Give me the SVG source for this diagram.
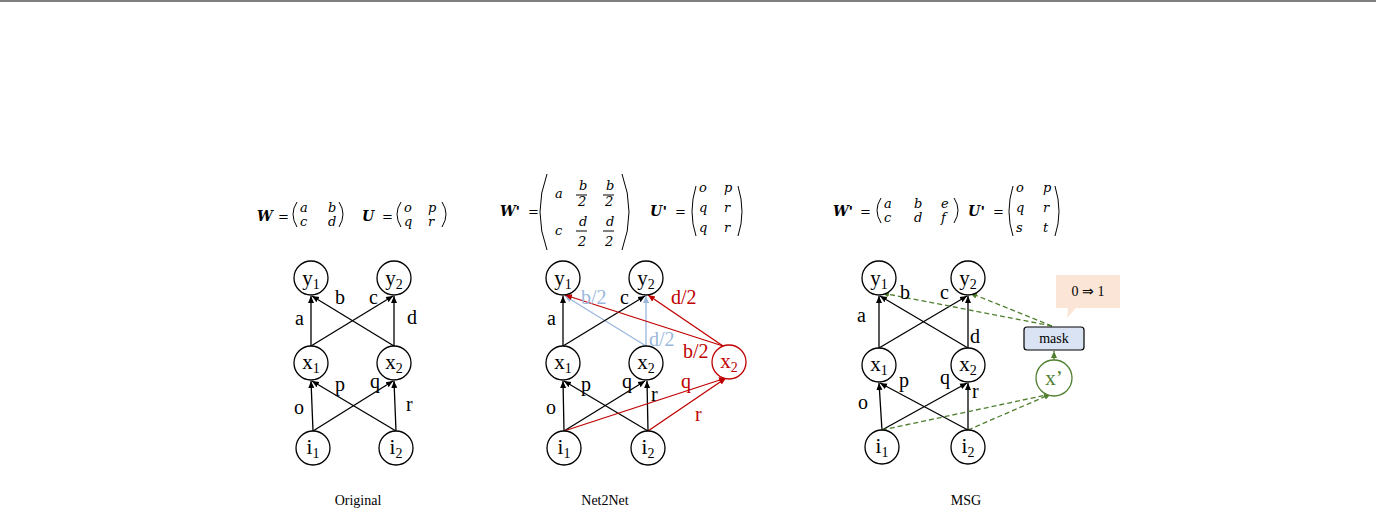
<svg xmlns="http://www.w3.org/2000/svg" width="1376" height="512" viewBox="0 0 1376 512">
<style>
text{font-family:"Liberation Serif",serif;fill:#000}
.n{fill:#fff;stroke:#000;stroke-width:1.3}
.nl{font-size:21px;text-anchor:middle}
.l{font-size:20px}
.m{font-family:"DejaVu Serif","Liberation Serif",serif;font-style:italic;font-size:13px}
.mb{font-family:"DejaVu Serif",serif;font-weight:bold;font-style:italic;font-size:14px}
.pr{font-family:"Liberation Sans",sans-serif;font-style:normal;font-weight:bold;font-size:15px}
.e{stroke:#000;stroke-width:1.3;fill:none;marker-end:url(#ak)}
.r{stroke:#c00000;stroke-width:1.3;fill:none;marker-end:url(#ar)}
.b{stroke:#9ab7dd;stroke-width:1.3;fill:none;marker-end:url(#ab)}
.g{stroke:#4f7f2f;stroke-width:1.3;fill:none;stroke-dasharray:5 3;marker-end:url(#ag)}
.p{fill:none;stroke:#000;stroke-width:1}
.t{font-size:14px;text-anchor:middle}
</style>
<defs>
<marker id="ak" markerWidth="8" markerHeight="8" refX="7" refY="4" orient="auto" markerUnits="userSpaceOnUse"><path d="M0,1 L7,4 L0,7z" fill="#000"/></marker>
<marker id="ar" markerWidth="8" markerHeight="8" refX="7" refY="4" orient="auto" markerUnits="userSpaceOnUse"><path d="M0,1 L7,4 L0,7z" fill="#c00000"/></marker>
<marker id="ab" markerWidth="8" markerHeight="8" refX="7" refY="4" orient="auto" markerUnits="userSpaceOnUse"><path d="M0,1 L7,4 L0,7z" fill="#9ab7dd"/></marker>
<marker id="ag" markerWidth="8" markerHeight="8" refX="7" refY="4" orient="auto" markerUnits="userSpaceOnUse"><path d="M0,1 L7,4 L0,7z" fill="#4f7f2f"/></marker>
</defs>
<line x1="0" y1="1" x2="1376" y2="1" stroke="#000" stroke-width="1.2"/>

<g id="connectors">
<line class="e" x1="311" y1="346" x2="311" y2="296"/>
<line class="e" x1="311" y1="346" x2="393" y2="296"/>
<line class="e" x1="394" y1="346" x2="312" y2="296"/>
<line class="e" x1="394" y1="346" x2="394" y2="296"/>
<line class="e" x1="313" y1="431" x2="311" y2="381"/>
<line class="e" x1="313" y1="431" x2="393" y2="381"/>
<line class="e" x1="396" y1="431" x2="312" y2="381"/>
<line class="e" x1="396" y1="431" x2="394" y2="381"/>
<line class="b" x1="646" y1="346" x2="565" y2="296"/>
<line class="b" x1="646" y1="346" x2="646" y2="296"/>
<line class="e" x1="563" y1="346" x2="563" y2="296"/>
<line class="e" x1="563" y1="346" x2="645" y2="296"/>
<line class="r" x1="723" y1="346" x2="565" y2="295"/>
<line class="r" x1="723" y1="346" x2="648" y2="295"/>
<line class="e" x1="564" y1="431" x2="563" y2="381"/>
<line class="e" x1="564" y1="431" x2="645" y2="381"/>
<line class="e" x1="648" y1="431" x2="564" y2="381"/>
<line class="e" x1="648" y1="431" x2="647" y2="381"/>
<line class="r" x1="564" y1="431" x2="726" y2="378"/>
<line class="r" x1="648" y1="431" x2="726" y2="378"/>
<line class="e" x1="879" y1="348" x2="879" y2="296"/>
<line class="e" x1="879" y1="348" x2="967" y2="296"/>
<line class="e" x1="968" y1="348" x2="880" y2="296"/>
<line class="e" x1="968" y1="348" x2="968" y2="296"/>
<line class="e" x1="882" y1="430" x2="879" y2="383"/>
<line class="e" x1="882" y1="430" x2="967" y2="383"/>
<line class="e" x1="968" y1="430" x2="880" y2="383"/>
<line class="e" x1="968" y1="430" x2="968" y2="383"/>
<line class="g" x1="1052" y1="326" x2="882" y2="293"/>
<line class="g" x1="1052" y1="326" x2="970" y2="293"/>
<line class="g" x1="882" y1="430" x2="1051" y2="394"/>
<line class="g" x1="968" y1="430" x2="1051" y2="394"/>
<line class="g" x1="1054" y1="360" x2="1054" y2="351" stroke-dasharray="none"/>
</g>

<g id="labels">
<text class="l" x="295" y="325">a</text><text class="l" x="335" y="304">b</text>
<text class="l" x="369" y="304">c</text><text class="l" x="407" y="324">d</text>
<text class="l" x="335" y="391">p</text><text class="l" x="370" y="388">q</text>
<text class="l" x="294" y="414">o</text><text class="l" x="406" y="411">r</text>
<text class="l" x="547" y="325">a</text><text class="l" x="620" y="304">c</text>
<text class="l" x="581" y="304" style="fill:#9ab7dd">b/2</text>
<text class="l" x="649" y="346" style="fill:#9ab7dd">d/2</text>
<text class="l" x="671" y="304" style="fill:#c00000">d/2</text>
<text class="l" x="683" y="358" style="fill:#c00000">b/2</text>
<text class="l" x="681" y="388" style="fill:#c00000">q</text>
<text class="l" x="695" y="421" style="fill:#c00000">r</text>
<text class="l" x="581" y="391">p</text><text class="l" x="622" y="388">q</text>
<text class="l" x="546" y="414">o</text><text class="l" x="651" y="401">r</text>
<text class="l" x="857" y="322">a</text><text class="l" x="900" y="299">b</text>
<text class="l" x="940" y="299">c</text><text class="l" x="970" y="343">d</text>
<text class="l" x="899" y="387">p</text><text class="l" x="940" y="384">q</text>
<text class="l" x="858" y="409">o</text><text class="l" x="972" y="398">r</text>
</g>

<g id="y1o"><circle class="n" cx="311" cy="278" r="17"/><text class="nl" x="311" y="285">y<tspan font-size="14" dy="4">1</tspan></text></g>
<g id="y2o"><circle class="n" cx="394" cy="278" r="17"/><text class="nl" x="394" y="285">y<tspan font-size="14" dy="4">2</tspan></text></g>
<g id="x1o"><circle class="n" cx="311" cy="363" r="17"/><text class="nl" x="311" y="369">x<tspan font-size="14" dy="4">1</tspan></text></g>
<g id="x2o"><circle class="n" cx="394" cy="363" r="17"/><text class="nl" x="394" y="369">x<tspan font-size="14" dy="4">2</tspan></text></g>
<g id="i1o"><circle class="n" cx="313" cy="448" r="17"/><text class="nl" x="313" y="454">i<tspan font-size="14" dy="4">1</tspan></text></g>
<g id="i2o"><circle class="n" cx="396" cy="448" r="17"/><text class="nl" x="396" y="454">i<tspan font-size="14" dy="4">2</tspan></text></g>
<g id="y1n"><circle class="n" cx="563" cy="278" r="17"/><text class="nl" x="563" y="285">y<tspan font-size="14" dy="4">1</tspan></text></g>
<g id="y2n"><circle class="n" cx="646" cy="278" r="17"/><text class="nl" x="646" y="285">y<tspan font-size="14" dy="4">2</tspan></text></g>
<g id="x1n"><circle class="n" cx="563" cy="363" r="17"/><text class="nl" x="563" y="369">x<tspan font-size="14" dy="4">1</tspan></text></g>
<g id="x2n"><circle class="n" cx="646" cy="363" r="17"/><text class="nl" x="646" y="369">x<tspan font-size="14" dy="4">2</tspan></text></g>
<g id="x2new"><circle class="n" cx="729" cy="362" r="17" style="stroke:#c00000"/><text class="nl" x="729" y="368" style="fill:#c00000">x<tspan font-size="14" dy="4">2</tspan></text></g>
<g id="i1n"><circle class="n" cx="564" cy="448" r="17"/><text class="nl" x="564" y="454">i<tspan font-size="14" dy="4">1</tspan></text></g>
<g id="i2n"><circle class="n" cx="648" cy="448" r="17"/><text class="nl" x="648" y="454">i<tspan font-size="14" dy="4">2</tspan></text></g>
<g id="y1m"><circle class="n" cx="879" cy="278" r="17"/><text class="nl" x="879" y="285">y<tspan font-size="14" dy="4">1</tspan></text></g>
<g id="y2m"><circle class="n" cx="968" cy="278" r="17"/><text class="nl" x="968" y="285">y<tspan font-size="14" dy="4">2</tspan></text></g>
<g id="x1m"><circle class="n" cx="879" cy="365" r="17"/><text class="nl" x="879" y="371">x<tspan font-size="14" dy="4">1</tspan></text></g>
<g id="x2m"><circle class="n" cx="968" cy="365" r="17"/><text class="nl" x="968" y="371">x<tspan font-size="14" dy="4">2</tspan></text></g>
<g id="i1m"><circle class="n" cx="882" cy="447" r="17"/><text class="nl" x="882" y="453">i<tspan font-size="14" dy="4">1</tspan></text></g>
<g id="i2m"><circle class="n" cx="968" cy="447" r="17"/><text class="nl" x="968" y="453">i<tspan font-size="14" dy="4">2</tspan></text></g>
<g id="xp"><circle class="n" cx="1054" cy="378" r="18" style="stroke:#4f7f2f"/><text class="nl" x="1054" y="385" style="fill:#4f7f2f">x’</text></g>
<g id="mask"><rect x="1024" y="327" width="60" height="23" rx="3" fill="#dae3f3" stroke="#000" stroke-width="1.2"/><text x="1054" y="343" class="t" font-size="14">mask</text></g>
<g id="callout"><path d="M1056,275 H1120 V308 H1076 L1067,318 L1068,308 H1056 Z" fill="#fbe5d6"/><text x="1088" y="296" class="t" font-size="12">0 ⇒ 1</text></g>

<g id="formulas">
<text class="mb" x="257" y="221">W</text><text class="m" x="278" y="221">=</text>
<path class="p" d="M297,202 Q289,214 297,227"/><text class="m" x="300" y="212">a</text><text class="m" x="328" y="212">b</text>
<text class="m" x="300" y="226">c</text><text class="m" x="328" y="226">d</text><path class="p" d="M339,202 Q347,214 339,227"/>
<text class="mb" x="362" y="221">U</text><text class="m" x="382" y="221">=</text>
<path class="p" d="M401,202 Q393,214 401,227"/><text class="m" x="404" y="212">o</text><text class="m" x="428" y="212">p</text>
<text class="m" x="404" y="226">q</text><text class="m" x="428" y="226">r</text><path class="p" d="M442,202 Q450,214 442,227"/>

<text class="mb" x="500" y="216">W</text><text class="pr" x="516" y="216">'</text><text class="m" x="528" y="216">=</text>
<path class="p" d="M547,174 Q533,212 547,250"/>
<text class="m" x="555" y="198">a</text><text class="m" x="555" y="235">c</text>
<text class="m" x="579" y="190">b</text><line class="p" x1="576" y1="195" x2="587" y2="195"/><text class="m" x="578" y="206">2</text>
<text class="m" x="606" y="190">b</text><line class="p" x1="603" y1="195" x2="614" y2="195"/><text class="m" x="605" y="206">2</text>
<text class="m" x="579" y="226">d</text><line class="p" x1="576" y1="231" x2="587" y2="231"/><text class="m" x="578" y="246">2</text>
<text class="m" x="606" y="226">d</text><line class="p" x1="603" y1="231" x2="614" y2="231"/><text class="m" x="605" y="246">2</text>
<path class="p" d="M622,174 Q636,212 622,250"/>
<text class="mb" x="650" y="216">U</text><text class="pr" x="663" y="216">'</text><text class="m" x="675" y="216">=</text>
<path class="p" d="M696,186 Q688,212 696,236"/>
<text class="m" x="699" y="192">o</text><text class="m" x="724" y="192">p</text>
<text class="m" x="699" y="212">q</text><text class="m" x="724" y="212">r</text>
<text class="m" x="699" y="232">q</text><text class="m" x="724" y="232">r</text>
<path class="p" d="M738,186 Q746,212 738,236"/>

<text class="mb" x="833" y="216">W</text><text class="pr" x="849" y="216">'</text><text class="m" x="860" y="216">=</text>
<path class="p" d="M881,198 Q873,210 881,223"/>
<text class="m" x="884" y="208">a</text><text class="m" x="914" y="208">b</text><text class="m" x="941" y="208">e</text>
<text class="m" x="884" y="222">c</text><text class="m" x="914" y="222">d</text><text class="m" x="941" y="222">f</text>
<path class="p" d="M954,198 Q962,210 954,223"/>
<text class="mb" x="968" y="216">U</text><text class="pr" x="981" y="216">'</text><text class="m" x="993" y="216">=</text>
<path class="p" d="M1013,186 Q1005,212 1013,236"/>
<text class="m" x="1016" y="192">o</text><text class="m" x="1043" y="192">p</text>
<text class="m" x="1016" y="212">q</text><text class="m" x="1043" y="212">r</text>
<text class="m" x="1016" y="232">s</text><text class="m" x="1043" y="232">t</text>
<path class="p" d="M1055,186 Q1063,212 1055,236"/>
</g>

<g id="titles">
<text class="t" x="358" y="505">Original</text>
<text class="t" x="605" y="505">Net2Net</text>
<text class="t" x="966" y="505">MSG</text>
</g>
</svg>
